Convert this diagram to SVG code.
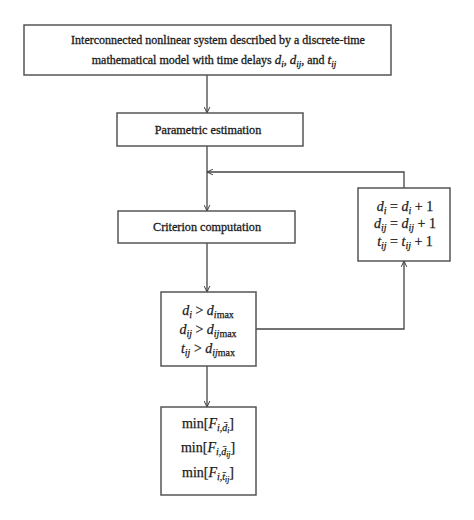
<svg xmlns="http://www.w3.org/2000/svg" width="474" height="520" viewBox="0 0 474 520">
<defs>
<marker id="arr" viewBox="0 0 10 10" refX="9.5" refY="5" markerWidth="7" markerHeight="7" markerUnits="userSpaceOnUse" orient="auto">
<path d="M1,1 L9.5,5 L1,9" fill="none" stroke="#3a3a3a" stroke-width="1.4"/>
</marker>
</defs>
<style>
.box{fill:#fff;stroke:#555;stroke-width:1.5}
.t{font-family:"Liberation Serif","DejaVu Serif",serif;font-size:12px;fill:#1a1a1a;stroke:#1a1a1a;stroke-width:0.3;text-anchor:middle}
.m{font-family:"Liberation Serif","DejaVu Serif",serif;font-size:14px;fill:#1a1a1a;stroke:#1a1a1a;stroke-width:0.25;text-anchor:middle}
.i{font-style:italic}
.s{font-size:10px}
.s2{font-size:9px}
.c{fill:none;stroke:#444;stroke-width:1.3}
</style>
<rect width="474" height="520" fill="#fff"/>
<g id="connectors">
<line class="c" x1="207" y1="75" x2="207" y2="113" marker-end="url(#arr)"/>
<line class="c" x1="207" y1="146" x2="207" y2="211" marker-end="url(#arr)"/>
<polyline class="c" points="404,188 404,172 207,172" marker-end="url(#arr)"/>
<line class="c" x1="207" y1="243" x2="207" y2="292" marker-end="url(#arr)"/>
<polyline class="c" points="256,329 404,329 404,261" marker-end="url(#arr)"/>
<line class="c" x1="207" y1="366" x2="207" y2="407" marker-end="url(#arr)"/>
</g>
<g id="system">
<rect class="box" x="24" y="25" width="367" height="50"/>
<text class="t" x="218" y="44">Interconnected nonlinear system described by a discrete-time</text>
<text class="t" x="214" y="64">mathematical model with time delays <tspan class="i" style="font-size:13px">d</tspan><tspan class="i s2" dy="3">i</tspan><tspan dy="-3">, </tspan><tspan class="i" style="font-size:13px">d</tspan><tspan class="i s2" dy="3">ij</tspan><tspan dy="-3">, and </tspan><tspan class="i" style="font-size:13px">t</tspan><tspan class="i s2" dy="3">ij</tspan></text>
</g>
<g id="param">
<rect class="box" x="117" y="113" width="186" height="33"/>
<text class="t" x="208" y="134" style="font-size:12.2px">Parametric estimation</text>
</g>
<g id="criterion">
<rect class="box" x="118" y="211" width="177" height="32"/>
<text class="t" x="207" y="231" style="font-size:12.2px">Criterion computation</text>
</g>
<g id="update">
<rect class="box" x="358" y="188" width="92" height="73"/>
<text class="m" x="405" y="211"><tspan class="i">d</tspan><tspan class="i s" dy="3">i</tspan><tspan dy="-3"> = </tspan><tspan class="i">d</tspan><tspan class="i s" dy="3">i</tspan><tspan dy="-3"> + 1</tspan></text>
<text class="m" x="405" y="228"><tspan class="i">d</tspan><tspan class="i s" dy="3">ij</tspan><tspan dy="-3"> = </tspan><tspan class="i">d</tspan><tspan class="i s" dy="3">ij</tspan><tspan dy="-3"> + 1</tspan></text>
<text class="m" x="405" y="246"><tspan class="i">t</tspan><tspan class="i s" dy="3">ij</tspan><tspan dy="-3"> = </tspan><tspan class="i">t</tspan><tspan class="i s" dy="3">ij</tspan><tspan dy="-3"> + 1</tspan></text>
</g>
<g id="decision">
<rect class="box" x="161" y="292" width="95" height="74"/>
<text class="m" x="208" y="315"><tspan class="i">d</tspan><tspan class="i s" dy="3">i</tspan><tspan dy="-3"> &gt; </tspan><tspan class="i">d</tspan><tspan class="s" dy="3"><tspan class="i">i</tspan>max</tspan></text>
<text class="m" x="208" y="334"><tspan class="i">d</tspan><tspan class="i s" dy="3">ij</tspan><tspan dy="-3"> &gt; </tspan><tspan class="i">d</tspan><tspan class="s" dy="3"><tspan class="i">ij</tspan>max</tspan></text>
<text class="m" x="208" y="353"><tspan class="i">t</tspan><tspan class="i s" dy="3">ij</tspan><tspan dy="-3"> &gt; </tspan><tspan class="i">d</tspan><tspan class="s" dy="3"><tspan class="i">ij</tspan>max</tspan></text>
</g>
<g id="result">
<rect class="box" x="161" y="407" width="95" height="88"/>
<text class="m" x="208" y="428">min[<tspan class="i">F</tspan><tspan class="i s" dy="3">i,d̄</tspan><tspan class="i" style="font-size:7.5px" dy="2">i</tspan><tspan dy="-5">]</tspan></text>
<text class="m" x="208" y="452">min[<tspan class="i">F</tspan><tspan class="i s" dy="3">i,d̄</tspan><tspan class="i" style="font-size:7.5px" dy="2">ij</tspan><tspan dy="-5">]</tspan></text>
<text class="m" x="208" y="477">min[<tspan class="i">F</tspan><tspan class="i s" dy="3">i,t̄</tspan><tspan class="i" style="font-size:7.5px" dy="2">ij</tspan><tspan dy="-5">]</tspan></text>
</g>
</svg>
